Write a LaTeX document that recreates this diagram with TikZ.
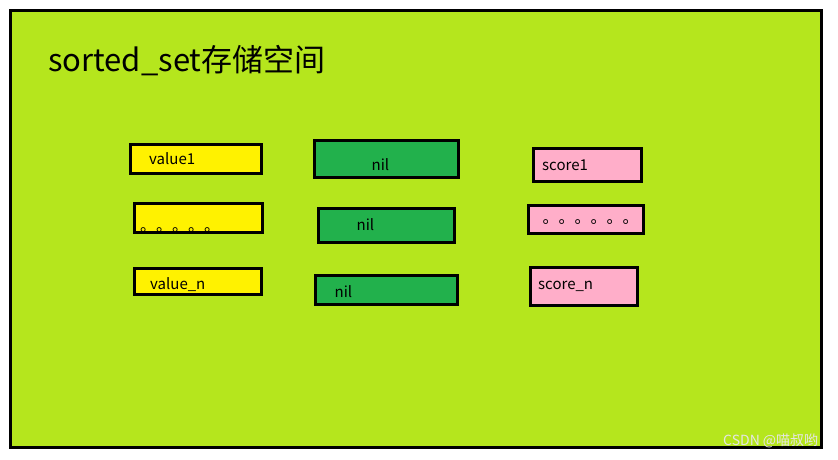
\documentclass[tikz,border=0pt]{standalone}
\usepackage{fontspec}
\setmainfont{Noto Sans CJK SC}
\usetikzlibrary{positioning}
\definecolor{paintlime}{HTML}{B5E61D}
\definecolor{paintyellow}{HTML}{FFF200}
\definecolor{paintgreen}{HTML}{22B14C}
\definecolor{paintpink}{HTML}{FFAEC9}

\begin{document}
\begin{tikzpicture}[
    x=1pt, y=-1pt,
    cell/.style={draw, line width=3pt, anchor=north west, inner sep=0pt, outer sep=0pt},
    valbox/.style={cell, fill=paintyellow},
    nilbox/.style={cell, fill=paintgreen},
    scorebox/.style={cell, fill=paintpink},
    txt/.style={anchor=base west, inner sep=0pt, font=\fontsize{15}{18}\selectfont},
    dots/.style={anchor=base west, inner sep=0pt, font=\fontsize{16}{18}\selectfont}
]
    \useasboundingbox (0,0) rectangle (838,459);
    \fill[white] (0,0) rectangle (838,459);
    \node[cell, fill=paintlime, minimum width=810.4pt, minimum height=437pt] (space) at (10.8,10.8) {};
    \node[anchor=base west, inner sep=0pt, font=\fontsize{31}{36}\selectfont] (title) at (48,71) {sorted\_set存储空间};

    % value column
    \node[valbox, minimum width=130.4pt, minimum height=29.3pt] (val1) at (130.8,144.2) {};
    \node[valbox, minimum width=128.6pt, minimum height=29pt] (valdots) at (134.2,203.8) {};
    \node[valbox, minimum width=127pt, minimum height=26.3pt] (valn) at (134.5,268.5) {};
    \node[txt] (val1text) at (149,164) {value1};
    \node[dots] (valdotstext) at (140,231.5) {。。。。。};
    \node[txt] (valntext) at (150,289) {value\_n};

    % nil column
    \node[nilbox, minimum width=144pt, minimum height=36.4pt] (nil1) at (314.8,140.8) {};
    \node[nilbox, minimum width=136pt, minimum height=34pt] (nil2) at (318.8,208.8) {};
    \node[nilbox, minimum width=142pt, minimum height=29pt] (nil3) at (315.8,275.8) {};
    \node[txt] (nil1text) at (371.5,170.5) {nil};
    \node[txt] (nil2text) at (356.5,230.5) {nil};
    \node[txt] (nil3text) at (334.5,297.5) {nil};

    % score column
    \node[scorebox, minimum width=108pt, minimum height=33pt] (score1) at (533.2,148.8) {};
    \node[scorebox, minimum width=114.4pt, minimum height=28pt] (scoredots) at (528.8,205.8) {};
    \node[scorebox, minimum width=107pt, minimum height=38pt] (scoren) at (530.8,267.8) {};
    \node[txt] (score1text) at (542,170) {score1};
    \node[dots] (scoredotstext) at (542.5,223) {。。。。。。};
    \node[txt] (scorentext) at (538,289) {score\_n};

    \node[anchor=base west, inner sep=0pt, font=\fontsize{14}{16}\selectfont,
          text=white!80!gray] (mark) at (723,445) {CSDN @喵叔哟};
\end{tikzpicture}
\end{document}
